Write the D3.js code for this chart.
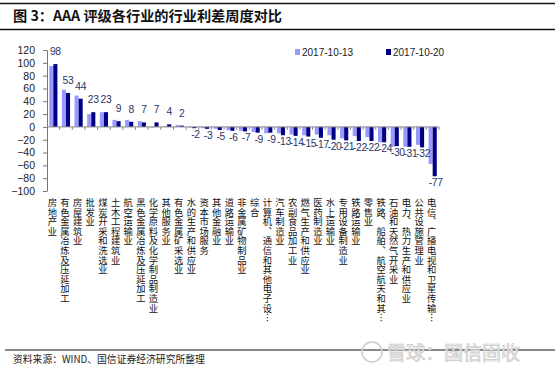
<!DOCTYPE html>
<html>
<head>
<meta charset="utf-8">
<script src="https://cdn.jsdelivr.net/npm/d3@7"></script>
<style>
  body { margin: 0; background: #fff; }
  svg { display: block; }
</style>
</head>
<body>
<svg id="chart" width="555" height="370"></svg>
<script>
// AAA 各行业利差周度对比

var categories = [
    "房地产业", "有色金属冶炼及压延加工", "房屋建筑业", "批发业", "煤炭开采和洗选业",
    "土木工程建筑业", "航空运输业", "黑色金属冶炼及压延加工", "化学原料及化学制品制造业",
    "其他服务业", "有色金属矿采选业", "水的生产和供应业", "资本市场服务", "其他金融业",
    "道路运输业", "非金属矿物制品业", "综合", "计算机、通信和其他电子设…", "汽车制造业",
    "农副食品加工业", "燃气生产和供应业", "医药制造业", "水上运输业", "专用设备制造业",
    "铁路运输业", "零售业", "铁路、船舶、航空航天和其…", "石油和天然气开采业",
    "电力、热力生产和供应业", "公共设施管理业", "电信、广播电视和卫星传输…"
]
var series = ["2017-10-13", "2017-10-20"]
var values1013 = [95, 58, 49, 20, 23, 11, 11, 9, -1, 1, 3,
    -1, -2, -3, -5, -6, -8, -10, -10, -12, -13, -12, -13, -18, -14, -16, -24, -31, -31, -28, -58]
var values1020 = [98, 53, 44, 23, 23, 9, 8, 7, 7, 4, 2,
    -2, -3, -5, -6, -7, -9, -9, -13, -14, -15, -17, -20, -21, -22, -22, -24, -30, -31, -32, -77]
var yTicks = [120, 100, 80, 60, 40, 20, 0, -20, -40, -60, -80, -100]
var colors = ["#9999ff", "#000080"]

var dataset = categories.map(function(c, i) {
    return { name: c, v: [values1013[i], values1020[i]] }
})

var svg = d3.select("#chart")
var cjk = "'Noto Sans CJK SC', sans-serif"
var latin = "'Liberation Sans', Arial, sans-serif"

// title box
svg.append("line").attr("x1", 0).attr("x2", 555).attr("y1", 3.5).attr("y2", 3.5)
    .attr("stroke", "#111").attr("stroke-width", 1.5)
svg.append("line").attr("x1", 0).attr("x2", 555).attr("y1", 29.5).attr("y2", 29.5)
    .attr("stroke", "#111").attr("stroke-width", 1.5)
svg.append("text").attr("x", 13).attr("y", 21)
    .attr("font-family", cjk).attr("font-weight", "bold").attr("font-size", 14.2)
    .attr("fill", "#111")
    .text("图 3：AAA 评级各行业的行业利差周度对比")

var x = d3.scaleBand().domain(categories).range([47, 439]).padding(0)
var xs = d3.scaleBand().domain([0, 1]).range([0, x.bandwidth()])
    .paddingInner(0).paddingOuter(0.55)
var y = d3.scaleLinear().domain([-100, 120]).range([191, 50])

// y axis
var yAxis = svg.append("g")
    .attr("transform", "translate(47,0)")
    .call(d3.axisLeft(y).tickValues(yTicks).tickSize(4).tickSizeOuter(0).tickPadding(8))
yAxis.selectAll("path, line").attr("stroke", "#777")
yAxis.selectAll("text").attr("font-family", latin).attr("font-size", 10.5).attr("fill", "#222")

// bars
var groups = svg.append("g").selectAll("g")
    .data(dataset)
    .join("g")
    .attr("transform", d => "translate(" + x(d.name) + ",0)")

groups.selectAll("rect")
    .data(d => d.v.map((v, k) => ({ k: k, v: v })))
    .join("rect")
    .attr("x", d => xs(d.k))
    .attr("width", xs.bandwidth())
    .attr("y", d => y(Math.max(0, d.v)))
    .attr("height", d => Math.abs(y(d.v) - y(0)))
    .attr("fill", d => colors[d.k])

// category axis at zero
var xAxis = svg.append("g")
xAxis.append("line")
    .attr("x1", x.range()[0]).attr("x2", x.range()[1])
    .attr("y1", y(0)).attr("y2", y(0))
    .attr("stroke", "#888")
xAxis.selectAll(".tk")
    .data(categories.slice(1).concat([null]))
    .join("line")
    .attr("class", "tk")
    .attr("x1", d => d === null ? x.range()[1] : x(d))
    .attr("x2", d => d === null ? x.range()[1] : x(d))
    .attr("y1", y(0)).attr("y2", y(0) + 3)
    .attr("stroke", "#888")

// data labels for 2017-10-20
svg.append("g").selectAll("text")
    .data(dataset)
    .join("text")
    .attr("x", d => x(d.name) + xs(1) + xs.bandwidth() / 2 + (d.v[1] < 0 ? 1 : 0))
    .attr("y", d => d.v[1] >= 0 ? y(d.v[1]) - 9 : y(d.v[1]) + 10)
    .attr("text-anchor", "middle")
    .attr("font-family", latin).attr("font-size", 10.3)
    .attr("letter-spacing", -0.3)
    .attr("fill", "#2a3468")
    .text(d => d.v[1])

// vertical category labels, one character per line
var vert = function(s) { return s.replace(/、/g, "︑").replace(/…/g, "︙") }
var lab = svg.append("g").selectAll("text")
    .data(dataset)
    .join("text")
    .attr("font-family", cjk).attr("font-size", 9.3)
    .attr("fill", "#111")
    .attr("text-anchor", "middle")
lab.selectAll("tspan")
    .data(d => Array.from(vert(d.name)).map(ch => ({ ch: ch, cx: x(d.name) + x.bandwidth() / 2 - 1 })))
    .join("tspan")
    .attr("x", d => d.cx)
    .attr("y", (d, i) => 206 + i * 9.6)
    .text(d => d.ch)

// legend
var legend = svg.append("g").selectAll("g")
    .data(series)
    .join("g")
    .attr("transform", (d, i) => "translate(" + (i === 0 ? 295 : 386) + ",49)")
legend.append("rect").attr("width", 5).attr("height", 6).attr("fill", (d, i) => colors[i])
legend.append("text").attr("x", 7).attr("y", 7)
    .attr("font-family", latin).attr("font-size", 10).attr("fill", "#222")
    .text(d => d)

// footer
svg.append("line").attr("x1", 5).attr("x2", 555).attr("y1", 350).attr("y2", 350)
    .attr("stroke", "#111").attr("stroke-width", 1.2)
svg.append("text").attr("x", 13).attr("y", 363)
    .attr("font-family", cjk).attr("font-size", 9.8).attr("fill", "#222")
    .text("资料来源：WIND、国信证券经济研究所整理")

// watermark
svg.append("circle").attr("cx", 372).attr("cy", 352).attr("r", 10)
    .attr("fill", "none").attr("stroke", "#ccc").attr("stroke-width", 1.5)
svg.append("text").attr("x", 387).attr("y", 360)
    .attr("font-family", cjk).attr("font-size", 19)
    .attr("fill", "#f2f2f2").attr("stroke", "#c8c8c8").attr("stroke-width", 0.7)
    .text("雪球：国信固收")
</script>
</body>
</html>
